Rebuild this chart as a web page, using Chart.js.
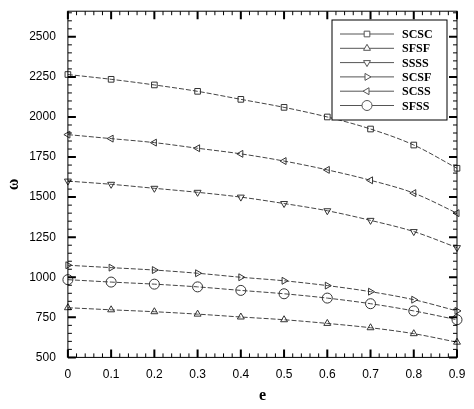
<!DOCTYPE html>
<html><head>
<script src="https://cdn.jsdelivr.net/npm/chart.js@4"></script>
<style>body{margin:0;background:#fff}</style>
</head><body>
<canvas id="c" width="474" height="409"></canvas>
<script>
const eVals = [0, 0.1, 0.2, 0.3, 0.4, 0.5, 0.6, 0.7, 0.8, 0.9]
const scsc = [2265, 2235, 2200, 2160, 2110, 2060, 2000, 1925, 1825, 1680]
const sfsf = [810, 797, 785, 770, 752, 735, 712, 685, 648, 595]
const ssss = [1600, 1580, 1555, 1530, 1500, 1460, 1415, 1355, 1285, 1185]
const scsf = [1075, 1060, 1045, 1025, 1000, 978, 948, 910, 860, 790]
const scss = [1890, 1865, 1840, 1805, 1770, 1725, 1670, 1605, 1525, 1400]
const sfss = [985, 970, 957, 940, 918, 897, 870, 835, 790, 735]
const xTicks = [0, 0.1, 0.2, 0.3, 0.4, 0.5, 0.6, 0.7, 0.8, 0.9]
const yTicks = [500, 750, 1000, 1250, 1500, 1750, 2000, 2250, 2500]

const series = [
  { label: 'SCSC', data: scsc, style: 'rect', rot: 0, r: 4 },
  { label: 'SFSF', data: sfsf, style: 'triangle', rot: 0, r: 4 },
  { label: 'SSSS', data: ssss, style: 'triangle', rot: 180, r: 4 },
  { label: 'SCSF', data: scsf, style: 'triangle', rot: 90, r: 4 },
  { label: 'SCSS', data: scss, style: 'triangle', rot: -90, r: 4 },
  { label: 'SFSS', data: sfss, style: 'circle', rot: 0, r: 5 }
]

// tick marks drawn inward on all four sides, plus legend box
const frame = {
  id: 'frame',
  afterDraw(chart) {
    const { ctx, chartArea: a, scales: { x, y } } = chart
    ctx.save()
    ctx.strokeStyle = '#000'
    ctx.lineWidth = 1
    ctx.strokeRect(a.left, a.top, a.right - a.left, a.bottom - a.top)
    for (let v = 0; v <= 0.9001; v += 0.02) {
      const px = x.getPixelForValue(v)
      const major = Math.abs(v * 10 - Math.round(v * 10)) < 0.01
      const len = major ? 8 : 4
      ctx.lineWidth = major ? 2 : 1
      ctx.beginPath()
      ctx.moveTo(px, a.bottom); ctx.lineTo(px, a.bottom - len)
      ctx.moveTo(px, a.top); ctx.lineTo(px, a.top + len)
      ctx.stroke()
    }
    for (let v = 500; v <= 2650; v += 50) {
      const py = y.getPixelForValue(v)
      const major = v % 250 == 0
      const len = major ? 8 : 4
      ctx.lineWidth = major ? 2 : 1
      ctx.beginPath()
      ctx.moveTo(a.left, py); ctx.lineTo(a.left + len, py)
      ctx.moveTo(a.right, py); ctx.lineTo(a.right - len, py)
      ctx.stroke()
    }
    // legend
    const lx = 332, ly = 20, lw = 115, lh = 100
    ctx.fillStyle = '#fff'
    ctx.fillRect(lx, ly, lw, lh)
    ctx.lineWidth = 1
    ctx.strokeRect(lx, ly, lw, lh)
    ctx.font = 'bold 12px "Liberation Serif"'
    ctx.textBaseline = 'middle'
    series.forEach((s, i) => {
      const yy = ly + 14 + i * 14.3
      ctx.strokeStyle = '#555'
      ctx.beginPath(); ctx.moveTo(lx + 8, yy); ctx.lineTo(lx + 62, yy); ctx.stroke()
      ctx.fillStyle = '#fff'
      Chart.helpers.drawPoint(ctx, { pointStyle: s.style, rotation: s.rot, radius: s.r, borderWidth: 1 }, lx + 35, yy)
      ctx.fillStyle = '#000'
      ctx.fillText(s.label, lx + 70, yy + 1)
    })
    ctx.restore()
  }
}

new Chart(document.getElementById('c'), {
  type: 'line',
  data: {
    datasets: series.map(s => ({
      label: s.label,
      data: eVals.map((e, i) => ({ x: e, y: s.data[i] })),
      borderColor: '#444',
      borderWidth: 1,
      borderDash: [5, 2],
      pointStyle: s.style,
      pointRotation: s.rot,
      pointRadius: s.r,
      pointBorderColor: '#333',
      pointBackgroundColor: 'rgba(0,0,0,0)',
      pointBorderWidth: 1,
      cubicInterpolationMode: 'monotone',
      clip: false
    }))
  },
  options: {
    responsive: false,
    animation: false,
    devicePixelRatio: 1,
    layout: { padding: { top: 4, right: 17, left: 2, bottom: 2 } },
    plugins: { legend: { display: false }, tooltip: { enabled: false } },
    scales: {
      x: {
        type: 'linear', min: 0, max: 0.9,
        afterBuildTicks: ax => { ax.ticks = xTicks.map(v => ({ value: v })) },
        grid: { display: false },
        border: { display: false },
        ticks: { color: '#000', font: { family: 'Liberation Sans', size: 12 }, maxRotation: 0, padding: 2, callback: v => String(v) },
        title: { display: true, text: 'e', color: '#000', font: { family: 'Liberation Serif', size: 16, weight: 'bold' }, padding: 2 }
      },
      y: {
        min: 500, max: 2660,
        afterBuildTicks: ax => { ax.ticks = yTicks.map(v => ({ value: v })) },
        grid: { display: false },
        border: { display: false },
        ticks: { color: '#000', font: { family: 'Liberation Sans', size: 12 }, padding: 4, callback: v => String(v) },
        title: { display: true, text: 'ω', color: '#000', font: { family: 'Liberation Serif', size: 16, weight: 'bold' }, padding: 2 }
      }
    }
  },
  plugins: [frame]
})
</script>
</body></html>
